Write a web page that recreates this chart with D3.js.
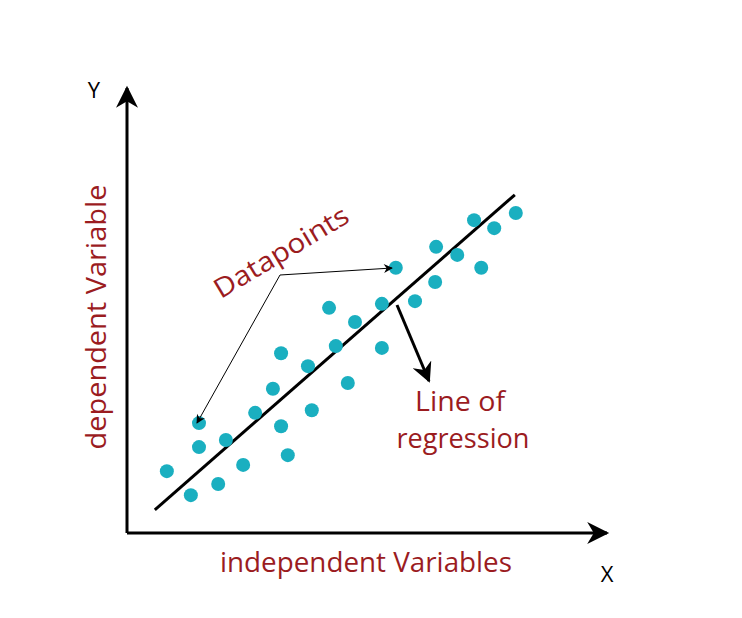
<!DOCTYPE html>
<html>
<head>
<meta charset="utf-8">
<script src="https://cdn.jsdelivr.net/npm/d3@7"></script>
<style>
  body { margin: 0; background: #fff; }
  text { font-family: "Open Sans", sans-serif; }
</style>
</head>
<body>
<svg id="chart" width="742" height="618"></svg>
<script>
// data points (x, y) in axis units
const pointsX = [0.83, 1.33, 1.5, 1.5, 1.9, 2.06, 2.42, 2.67, 3.04, 3.21, 3.21, 3.35, 3.77, 3.85, 4.21, 4.35, 4.6, 4.75, 5.31, 5.31, 5.6, 6.0, 6.42, 6.44, 6.88, 7.23, 7.38, 7.65, 8.1];
const pointsY = [1.39, 0.85, 2.47, 1.93, 1.1, 2.09, 1.53, 2.7, 3.24, 4.04, 2.4, 1.75, 3.75, 2.76, 5.06, 4.2, 3.37, 4.74, 5.15, 4.16, 5.96, 5.21, 5.64, 6.43, 6.25, 7.03, 5.96, 6.85, 7.19];
const lineX = [0.58, 8.08];
const lineY = [0.52, 7.6];

const labelColor = "#9b1c1f";
const dotColor = "#1aafc0";

const svg = d3.select("#chart");
const x = d3.scaleLinear().domain([0, 10]).range([127, 607]);
const y = d3.scaleLinear().domain([0, 10]).range([533, 88]);

const defs = svg.append("defs");
const marker = (id, w, h) =>
  defs.append("marker").attr("id", id).attr("viewBox", "0 0 10 10")
    .attr("refX", 9).attr("refY", 5).attr("markerWidth", w).attr("markerHeight", h)
    .attr("markerUnits", "userSpaceOnUse").attr("orient", "auto")
    .append("path").attr("d", "M0,0 L10,5 L0,10 L3,5 Z").attr("fill", "#000");
marker("bigArrow", 24, 22);
marker("smallArrow", 11, 9);
marker("midArrow", 20, 20);

// axes
svg.append("line").attr("x1", x(0)).attr("y1", y(0)).attr("x2", x(0)).attr("y2", y(10))
  .attr("stroke", "#000").attr("stroke-width", 3).attr("marker-end", "url(#bigArrow)");
svg.append("line").attr("x1", x(0)).attr("y1", y(0)).attr("x2", x(10)).attr("y2", y(0))
  .attr("stroke", "#000").attr("stroke-width", 3).attr("marker-end", "url(#bigArrow)");

svg.append("text").attr("x", 94).attr("y", 98).attr("text-anchor", "middle")
  .attr("font-size", 22).text("Y");
svg.append("text").attr("x", 607).attr("y", 582).attr("text-anchor", "middle")
  .attr("font-size", 22).text("X");

// regression line
svg.append("line").attr("x1", x(lineX[0])).attr("y1", y(lineY[0]))
  .attr("x2", x(lineX[1])).attr("y2", y(lineY[1]))
  .attr("stroke", "#000").attr("stroke-width", 3);

// points
svg.append("g").selectAll("circle")
  .data(pointsX.map((d, i) => ({ x: d, y: pointsY[i] })))
  .enter().append("circle")
  .attr("cx", d => x(d.x)).attr("cy", d => y(d.y)).attr("r", 7)
  .attr("fill", dotColor);

// annotation arrows
svg.append("line").attr("x1", 280).attr("y1", 275).attr("x2", 392).attr("y2", 268)
  .attr("stroke", "#000").attr("stroke-width", 1).attr("marker-end", "url(#smallArrow)");
svg.append("line").attr("x1", 280).attr("y1", 275).attr("x2", 197).attr("y2", 423)
  .attr("stroke", "#000").attr("stroke-width", 1).attr("marker-end", "url(#smallArrow)");
svg.append("line").attr("x1", 397).attr("y1", 305).attr("x2", 429).attr("y2", 381)
  .attr("stroke", "#000").attr("stroke-width", 3).attr("marker-end", "url(#midArrow)");

// labels
const label = (sel, len) => sel.attr("text-anchor", "middle").attr("font-size", 27)
  .attr("fill", labelColor).attr("textLength", len).attr("lengthAdjust", "spacingAndGlyphs");
label(svg.append("text").attr("transform", "translate(286,260) rotate(-31)"), 152)
  .text("Datapoints");
label(svg.append("text").attr("x", 460).attr("y", 411), 90).text("Line of");
label(svg.append("text").attr("x", 463).attr("y", 448), 133).text("regression");
label(svg.append("text").attr("transform", "translate(106,317) rotate(-90)"), 265)
  .text("dependent Variable");
label(svg.append("text").attr("x", 366).attr("y", 572), 292).text("independent Variables");
</script>
</body>
</html>
